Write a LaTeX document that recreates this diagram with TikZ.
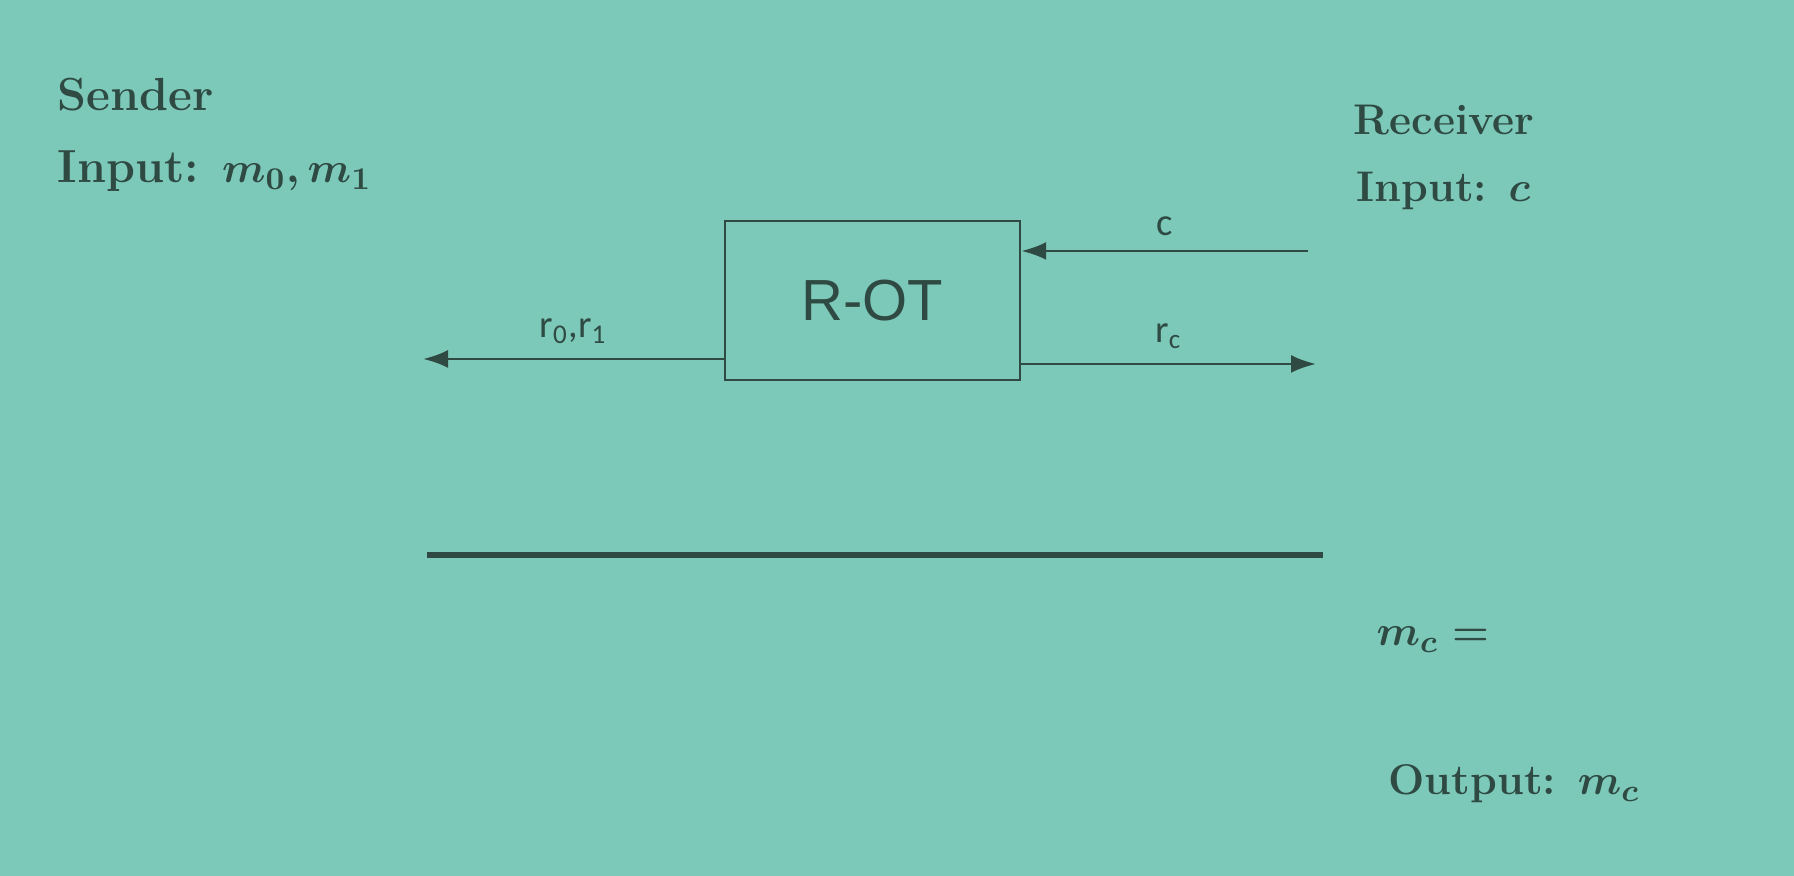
\documentclass[tikz,border=0pt]{standalone}
\usepackage{fontspec}
\usetikzlibrary{arrows.meta, positioning}
\newfontfamily\rotfont{Liberation Sans}
\newfontfamily\labfont{Carlito}
\definecolor{slide}{RGB}{124,201,186}
\definecolor{ink}{RGB}{47,74,66}

\begin{document}
\begin{tikzpicture}[
  party/.style={anchor=base west, text=ink, font=\fontsize{13.2}{16}\selectfont\bfseries\boldmath, inner sep=0pt},
  rparty/.style={party, font=\fontsize{12.2}{15}\selectfont\bfseries\boldmath},
  otbox/.style={rectangle, draw=ink, line width=0.7pt, minimum width=2.95cm, minimum height=1.59cm, font=\rotfont\fontsize{16.5}{18}\selectfont, text=ink},
  wire/.style={draw=ink, line width=0.8pt, -{Latex[length=2.5mm, width=1.8mm]}},
  wirelabel/.style={midway, above=2pt, text=ink, font=\labfont\fontsize{11}{12}\selectfont, inner sep=2pt}
]
  % Background
  \fill[slide] (0,0) rectangle (17.94,8.76);

  % Sender
  \node[party] (sender) at (0.57,7.65) {Sender};
  \node[party] (sendin) at (0.57,6.93) {Input: $m_0, m_1$};

  % Receiver
  \node[rparty] (receiver) at (13.53,7.41) {Receiver};
  \node[rparty] (recvin) at (13.56,6.74) {Input: $c$};

  % R-OT box
  \node[otbox] (rot) at (8.725,5.755) {R-OT};

  % Wires
  \coordinate (cstart) at (13.08,6.25);
  \coordinate (rcend) at (13.16,5.12);
  \coordinate (rend) at (4.23,5.17);
  \draw[wire] (cstart) -- (cstart -| rot.east) node[wirelabel] (lblc) {c};
  \draw[wire] (rot.east |- rcend) -- (rcend) node[wirelabel] (lblrc) {r\textsubscript{c}};
  \draw[wire] (rot.west |- rend) -- (rend) node[wirelabel] (lblr) {r\textsubscript{0},r\textsubscript{1}};

  % Separator line
  \coordinate (sepl) at (4.27,3.21);
  \coordinate (sepr) at (13.23,3.21);
  \draw[ink, line width=1.6pt] (sepl) -- (sepr);

  % Result
  \node[rparty] (mc) at (13.76,2.30) {$m_c =$};
  \node[rparty] (output) at (13.88,0.81) {Output: $m_c$};
\end{tikzpicture}
\end{document}
